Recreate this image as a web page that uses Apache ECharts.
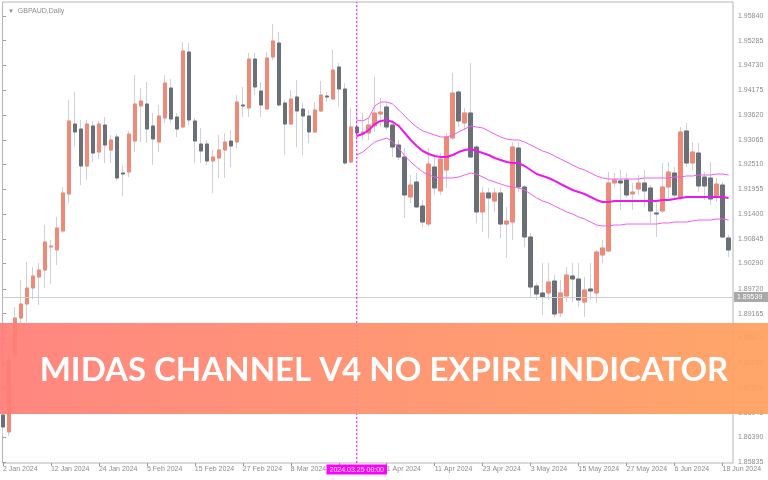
<!DOCTYPE html>
<html><head><meta charset="utf-8">
<script src="https://cdn.jsdelivr.net/npm/echarts@6/dist/echarts.min.js"></script>
<style>html,body{margin:0;padding:0;background:#fff}#c{width:768px;height:480px}</style>
</head><body><div id="c"></div>
<script>
// ---- data (GBPAUD daily, 2 Jan 2024 .. 19 Jun 2024) ----
const openP = [1.86895,1.86514,1.88240,1.89070,1.89383,1.89742,1.89988,1.90145,1.90661,1.90594,
1.91020,1.91849,1.93418,1.93306,1.92476,1.93374,1.92790,1.93396,1.92835,1.93127,
1.92320,1.92342,1.93037,1.93822,1.93866,1.93374,1.93015,1.93553,1.94225,1.93575,
1.93351,1.95032,1.93486,1.92970,1.92970,1.92589,1.92656,1.92835,1.93037,1.93015,
1.93844,1.93777,1.94875,1.94158,1.93754,1.94920,1.95234,1.93889,1.93418,1.94023,
1.93754,1.93598,1.93239,1.93709,1.94046,1.93978,1.94696,1.94203,1.92566,1.93351,
1.93194,1.93217,1.93374,1.93642,1.93799,1.93396,1.92947,1.92678,1.91782,1.92118,
1.91580,1.91176,1.92454,1.91917,1.92387,1.93104,1.94135,1.93441,1.93665,1.92902,
1.91446,1.91872,1.91692,1.91872,1.91176,1.91221,1.92880,1.92006,1.90885,1.89787,
1.89630,1.89630,1.89899,1.89182,1.89563,1.90011,1.89944,1.89428,1.89719,1.89630,
1.90482,1.90571,1.92096,1.92141,1.92163,1.91849,1.91961,1.92096,1.91984,1.91423,
1.91468,1.92006,1.92320,1.91782,1.93262,1.92544,1.92768,1.92230,1.92208,1.91782,
1.92051,1.90863];
const closeP = [1.86626,1.88128,1.89070,1.89383,1.89742,1.90011,1.90145,1.90773,1.90683,1.91087,
1.91872,1.93486,1.93239,1.92476,1.93418,1.92768,1.93418,1.92947,1.93060,1.92208,
1.92297,1.93194,1.93866,1.93934,1.93306,1.93082,1.93598,1.94337,1.93530,1.93306,
1.95055,1.93508,1.93037,1.92813,1.92589,1.92678,1.92835,1.93015,1.92925,1.93911,
1.93822,1.94875,1.94248,1.93844,1.94898,1.95279,1.93844,1.93418,1.93978,1.93709,
1.93598,1.93239,1.93732,1.94068,1.94023,1.94629,1.94203,1.92544,1.93351,1.93217,
1.93239,1.93396,1.93665,1.93687,1.93351,1.92902,1.92678,1.91827,1.92051,1.91558,
1.91221,1.92521,1.91984,1.92633,1.93127,1.94113,1.93486,1.93665,1.92678,1.91446,
1.91872,1.91760,1.91872,1.91176,1.91244,1.92902,1.92006,1.90885,1.89764,1.89607,
1.89540,1.89876,1.89159,1.89630,1.90033,1.89944,1.89473,1.89697,1.89675,1.90549,
1.90639,1.92096,1.92163,1.92096,1.91827,1.91894,1.92096,1.91917,1.91468,1.91401,
1.92006,1.92342,1.91827,1.93239,1.92544,1.92790,1.92029,1.92029,1.91737,1.92073,
1.90885,1.90594];
const highP = [1.87052,1.88240,1.89316,1.89921,1.90325,1.90212,1.90302,1.91154,1.90818,1.91333,
1.92006,1.93956,1.94135,1.93508,1.93508,1.93486,1.93486,1.93575,1.93172,1.93194,
1.92499,1.93262,1.94517,1.94225,1.94360,1.93665,1.93844,1.94517,1.94427,1.93665,
1.95256,1.95234,1.93553,1.93329,1.93060,1.92835,1.93172,1.93217,1.93284,1.94068,
1.94248,1.95010,1.95010,1.94360,1.95032,1.95660,1.95481,1.93956,1.94180,1.94405,
1.93889,1.93732,1.93911,1.94382,1.94135,1.95077,1.94786,1.94337,1.93777,1.93777,
1.93665,1.93553,1.94472,1.94001,1.93911,1.93508,1.93060,1.92880,1.92275,1.92320,
1.91715,1.92880,1.92678,1.92768,1.93217,1.94562,1.94180,1.93777,1.94786,1.92947,
1.92006,1.91984,1.91984,1.91984,1.91558,1.93015,1.93015,1.92051,1.90975,1.89854,
1.90302,1.90302,1.90033,1.89921,1.90212,1.90302,1.90302,1.89988,1.90302,1.90594,
1.90818,1.92342,1.92320,1.92387,1.92320,1.92096,1.92275,1.92387,1.92051,1.91648,
1.92544,1.92566,1.92454,1.93351,1.93441,1.93015,1.92993,1.92342,1.92566,1.92208,
1.92118,1.90930];
const lowP = [1.86447,1.86424,1.88173,1.88958,1.88980,1.89495,1.89361,1.89742,1.89831,1.90258,
1.90975,1.91648,1.92902,1.92051,1.92163,1.92566,1.92633,1.92544,1.92544,1.92141,
1.91804,1.92230,1.92790,1.93015,1.92993,1.92499,1.92790,1.93441,1.93441,1.93127,
1.93329,1.93396,1.92544,1.92544,1.92499,1.91872,1.92208,1.92208,1.92454,1.92880,
1.93575,1.93575,1.94068,1.93575,1.93732,1.94853,1.93822,1.92723,1.93396,1.92902,
1.92723,1.92993,1.93217,1.93687,1.93911,1.93956,1.93799,1.92499,1.92544,1.92947,
1.93060,1.93060,1.93239,1.93351,1.93284,1.92678,1.92611,1.91311,1.91648,1.91535,
1.91109,1.91109,1.91827,1.91827,1.91984,1.93060,1.93351,1.93284,1.92656,1.91199,
1.90997,1.90863,1.91446,1.90863,1.90415,1.90818,1.91894,1.90661,1.89540,1.89473,
1.89137,1.89473,1.89092,1.89092,1.89428,1.89428,1.89316,1.89092,1.89473,1.89406,
1.90302,1.90549,1.92006,1.91490,1.91760,1.91490,1.91827,1.91558,1.91199,1.90885,
1.91423,1.91760,1.91715,1.91715,1.92454,1.92387,1.91894,1.91715,1.91603,1.91670,
1.90863,1.90437];

// Midas channel, anchored at bar 59 (2024.03.25)
const midasStart = 59;
const midasMid = [1.93150,1.93194,1.93284,1.93418,1.93486,1.93508,1.93463,1.93374,1.93217,1.93060,
1.92925,1.92813,1.92746,1.92701,1.92678,1.92678,1.92723,1.92790,1.92835,1.92858,
1.92813,1.92768,1.92723,1.92656,1.92611,1.92566,1.92544,1.92544,1.92476,1.92387,
1.92297,1.92253,1.92208,1.92141,1.92073,1.92006,1.91939,1.91894,1.91849,1.91782,
1.91715,1.91670,1.91670,1.91692,1.91692,1.91692,1.91692,1.91692,1.91692,1.91692,
1.91692,1.91715,1.91715,1.91737,1.91760,1.91782,1.91782,1.91782,1.91782,1.91782,
1.91782,1.91782,1.91760];
const midasUpper = [1.93508,1.93486,1.93553,1.93822,1.93911,1.93911,1.93866,1.93732,1.93598,1.93463,
1.93351,1.93262,1.93217,1.93172,1.93127,1.93127,1.93172,1.93239,1.93306,1.93374,
1.93351,1.93329,1.93262,1.93194,1.93127,1.93082,1.93060,1.93060,1.93015,1.92947,
1.92880,1.92813,1.92768,1.92701,1.92633,1.92566,1.92499,1.92432,1.92387,1.92320,
1.92253,1.92208,1.92185,1.92185,1.92185,1.92185,1.92185,1.92185,1.92208,1.92208,
1.92208,1.92208,1.92208,1.92230,1.92230,1.92253,1.92253,1.92275,1.92275,1.92275,
1.92297,1.92297,1.92275];
const midasLower = [1.92723,1.92790,1.92902,1.93015,1.93060,1.93104,1.93015,1.92880,1.92701,1.92566,
1.92454,1.92342,1.92275,1.92230,1.92208,1.92208,1.92208,1.92230,1.92275,1.92320,
1.92297,1.92230,1.92163,1.92118,1.92073,1.92029,1.92006,1.91984,1.91939,1.91849,
1.91760,1.91692,1.91648,1.91580,1.91513,1.91446,1.91401,1.91334,1.91289,1.91221,
1.91154,1.91132,1.91132,1.91154,1.91154,1.91176,1.91176,1.91176,1.91176,1.91176,
1.91176,1.91199,1.91199,1.91221,1.91221,1.91221,1.91244,1.91266,1.91266,1.91266,
1.91289,1.91289,1.91266];

const xTickIdx = [0,8,16,24,32,40,48,56,64,72,80,88,96,104,112,120];
const xTickLabels = ['2 Jan 2024','12 Jan 2024','24 Jan 2024','5 Feb 2024','15 Feb 2024','27 Feb 2024',
  '8 Mar 2024','20 Mar 2024','1 Apr 2024','11 Apr 2024','23 Apr 2024','3 May 2024','15 May 2024',
  '27 May 2024','6 Jun 2024','18 Jun 2024'];
const yTickValues = [1.85835,1.86390,1.86945,1.87500,1.88055,1.88610,1.89165,1.89720,1.90290,
  1.90845,1.91400,1.91955,1.92510,1.93065,1.93620,1.94175,1.94730,1.95285,1.95840];
const bidPrice = 1.89539;
const anchorLabel = '2024.03.25 00:00';
const chartTitle = 'GBPAUD,Daily';
const bannerText = 'MIDAS CHANNEL V4 NO EXPIRE INDICATOR';

// ---- build ----
const Y_MIN = 1.85819, Y_MAX = 1.96153;
const n = openP.length;
const wickData = [], bodyData = [];
for (let i = 0; i < n; i++) {
  wickData.push([i, openP[i], closeP[i], lowP[i], highP[i]]);
  const lo = Math.min(openP[i], closeP[i]), hi = Math.max(openP[i], closeP[i]);
  bodyData.push([i, openP[i], closeP[i], lo, hi]);
}
const lineData = arr => arr.map((v, k) => [midasStart + k, v]);

const FONT = 'Liberation Sans';
const MAGENTA = '#ff00ff';
const chart = echarts.init(document.getElementById('c'), null, {renderer: 'canvas'});
chart.setOption({
  animation: false,
  backgroundColor: '#ffffff',
  title: {
    text: '{t|▼}  ' + chartTitle, left: 3, top: 3,
    textStyle: {fontSize: 7, color: '#8c8c8c', fontWeight: 'normal', fontFamily: FONT,
      rich: {t: {fontSize: 6, color: '#8c8c8c'}}}
  },
  grid: {left: 2, right: 35, top: 2, bottom: 17, show: true, borderColor: '#b4b4b4', borderWidth: 1, backgroundColor: '#ffffff'},
  xAxis: {
    type: 'value', min: -0.08, max: 121.75,
    axisLine: {show: false}, splitLine: {show: false},
    axisTick: {show: true, length: 3, lineStyle: {color: '#9a9a9a'}, customValues: xTickIdx},
    axisLabel: {
      customValues: xTickIdx, align: 'left', margin: 3, fontSize: 7, color: '#8c8c8c', fontFamily: FONT,
      formatter: v => xTickLabels[xTickIdx.indexOf(Math.round(v))] || ''
    }
  },
  yAxis: {
    type: 'value', position: 'right', min: Y_MIN, max: Y_MAX, scale: true,
    axisLine: {show: false}, splitLine: {show: false},
    axisTick: {show: true, length: 3, lineStyle: {color: '#9a9a9a'}, customValues: yTickValues},
    axisLabel: {customValues: yTickValues, margin: 5, fontSize: 7, color: '#8c8c8c', fontFamily: FONT,
      formatter: v => v.toFixed(5)}
  },
  series: [
    {
      type: 'line', name: 'bid', data: [], silent: true, z: 4,
      markLine: {
        silent: true, symbol: ['none', 'none'], animation: false, precision: 5,
        lineStyle: {color: '#cfcfcf', type: 'solid', width: 1, opacity: 1},
        label: {show: true, position: 'end', formatter: bidPrice.toFixed(5), color: '#ffffff', backgroundColor: '#a9a9a9',
          padding: [2, 8, 1, 3], fontSize: 7, fontFamily: FONT, distance: 1},
        data: [{yAxis: bidPrice}]
      }
    },
    {
      // anchor (crosshair) vertical line through the whole plot height
      type: 'line', name: 'anchorLine', data: [[midasStart, Y_MIN], [midasStart, Y_MAX]], silent: true, z: 7,
      symbol: 'none', lineStyle: {color: MAGENTA, type: [2, 2], width: 1},
      markPoint: {
        silent: true, animation: false, symbol: 'rect', symbolSize: 1,
        itemStyle: {color: 'rgba(0,0,0,0)'},
        label: {show: true, position: 'bottom', distance: 1, formatter: anchorLabel, color: '#ffffff', backgroundColor: MAGENTA,
          padding: [2, 3, 1, 3], fontSize: 7, fontFamily: FONT},
        data: [{coord: [midasStart, Y_MIN]}]
      }
    },
    {
      type: 'candlestick', name: 'wick', data: wickData, encode: {x: 0, y: [1, 2, 3, 4]},
      barWidth: 4, silent: true,
      itemStyle: {color: 'rgba(0,0,0,0)', color0: 'rgba(0,0,0,0)', borderColor: '#cfd0dc', borderColor0: '#cfd0dc', borderColorDoji: '#cfd0dc', borderWidth: 1}
    },
    {
      type: 'candlestick', name: 'body', data: bodyData, encode: {x: 0, y: [1, 2, 3, 4]},
      barWidth: 4, silent: true,
      itemStyle: {color: '#f08a78', color0: '#6b6f76', borderColor: '#f08a78', borderColor0: '#6b6f76', borderColorDoji: '#6b6f76', borderWidth: 1}
    },
    {type: 'line', data: lineData(midasUpper), symbol: 'none', silent: true, lineStyle: {color: '#f25cf2', width: 1}, z: 5},
    {type: 'line', data: lineData(midasLower), symbol: 'none', silent: true, lineStyle: {color: '#f25cf2', width: 1}, z: 5},
    {type: 'line', data: lineData(midasMid), symbol: 'none', silent: true, lineStyle: {color: '#ec18ec', width: 2}, z: 6}
  ],
  graphic: [
    {type: 'rect', x: 0, y: 323, z: 100, silent: true, shape: {width: 768, height: 91},
     style: {fill: new echarts.graphic.LinearGradient(0, 0, 1, 0, [{offset: 0, color: '#ff7d77'}, {offset: 1, color: '#ffa05e'}]), opacity: 0.93}},
    {type: 'text', x: 384, y: 370, z: 101, silent: true,
     style: {text: bannerText, fill: '#ffffff', font: 'bold 33px Lato', textAlign: 'center', textVerticalAlign: 'middle'}}
  ]
});
</script>
</body></html>
